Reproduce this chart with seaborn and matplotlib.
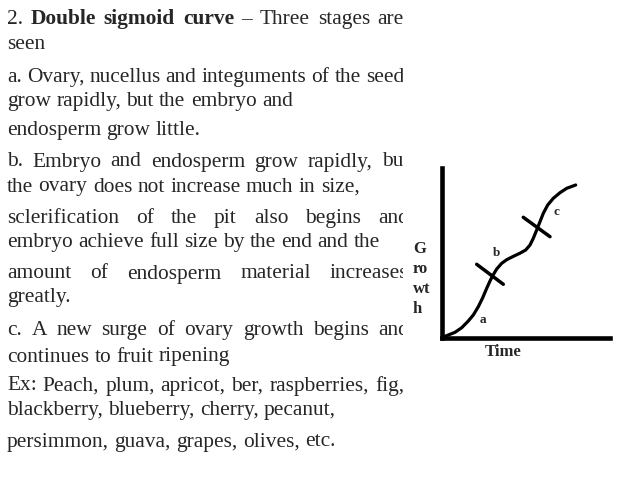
import matplotlib
matplotlib.use("Agg")
import matplotlib.pyplot as plt
from matplotlib.patches import Rectangle
import seaborn as sns
import pandas as pd

sns.set_style("white")
plt.rcParams['font.family'] = ['Liberation Serif', 'DejaVu Serif']

# slide text, words wrapped in ** are bold
body_lines = [
    "2. **Double** **sigmoid** **curve** \u2013 Three stages are",
    "seen",
    "a. Ovary, nucellus and integuments of the seed",
    "grow rapidly, but the embryo and",
    "endosperm grow little.",
    "b. Embryo and endosperm grow rapidly, but",
    "the ovary does not increase much in size,",
    "sclerification of the pit also begins and",
    "embryo achieve full size by the end and the",
    "amount of endosperm material increases",
    "greatly.",
    "c. A new surge of ovary growth begins and",
    "continues to fruit ripening",
    "Ex: Peach, plum, apricot, ber, raspberries, fig,",
    "blackberry, blueberry, cherry, pecanut,",
    "persimmon, guava, grapes, olives, etc.",
]
justified = [True, False, True, False, False, True, False, True,
             False, True, False, True, False, True, False, False]

# double sigmoid curve
time_vals = [0.0, 0.375, 0.774, 1.173, 1.565, 1.863, 2.161, 2.423, 2.661,
             2.857, 3.018, 3.256, 3.554, 3.851, 4.226, 4.643, 4.982, 5.238,
             5.435, 5.637, 5.833, 6.030, 6.292, 6.625, 7.024, 7.423, 7.958]
growth_vals = [0.0, 0.147, 0.306, 0.576, 0.971, 1.324, 1.812, 2.341, 2.894,
               3.324, 3.635, 4.029, 4.365, 4.576, 4.765, 4.959, 5.147, 5.441,
               5.835, 6.324, 6.812, 7.306, 7.794, 8.188, 8.518, 8.776, 8.971]

# stage boundary marks
mark_b_t = [2.065, 3.649]
mark_b_g = [4.306, 3.131]
mark_c_t = [4.839, 6.429]
mark_c_g = [7.071, 5.929]

stage_labels = ["a", "b", "c"]
stage_t = [2.26, 3.05, 6.63]
stage_g = [0.84, 4.79, 7.21]

ylabel_parts = ["G", "ro", "wt", "h"]

W, H = 638, 478
fig = plt.figure(figsize=(W / 100, H / 100), dpi=100)
fig.patch.set_facecolor("white")

# overlay axes in pixel units for the slide text
ax_txt = fig.add_axes([0, 0, 1, 1])
ax_txt.set_xlim(0, W)
ax_txt.set_ylim(H, 0)
ax_txt.axis("off")

FS = 15.4
renderer = fig.canvas.get_renderer()
clip_rect = Rectangle((0, 0), 403, H, transform=ax_txt.transData)
left = 7
baselines = [24, 49, 81.5, 106, 135, 166.5, 191.5, 223, 247, 278.5,
             302, 335, 361.5, 390.5, 415, 446.5]
right_edges = [404, 0, 404, 0, 0, 409, 0, 409, 0, 408, 0, 409, 0, 404, 0, 0]
space = 0.25 * FS * 100 / 72

for line, y, just, edge in zip(body_lines, baselines, justified, right_edges):
    words = line.split(" ")
    arts, widths = [], []
    for w in words:
        bold = w.startswith("**")
        t = ax_txt.text(0, y, w.strip("*"), fontsize=FS, va="baseline", ha="left",
                        fontweight="bold" if bold else "normal", clip_on=True)
        t.set_clip_path(clip_rect)
        arts.append(t)
        widths.append(t.get_window_extent(renderer).width)
    if just and len(words) > 1:
        gap = (edge - left - sum(widths)) / (len(words) - 1)
    else:
        gap = space
    x = left
    for t, wd in zip(arts, widths):
        t.set_x(x)
        x += wd + gap

# chart
ax = fig.add_axes([442 / W, 1 - 337.5 / H, 168 / W, 170 / H])
ax.patch.set_alpha(0)
df = pd.DataFrame({"Time": time_vals, "Growth": growth_vals})
sns.lineplot(data=df, x="Time", y="Growth", ax=ax, color="black", lw=2.3,
             estimator=None, sort=False, clip_on=False,
             solid_joinstyle="round", solid_capstyle="round")
sns.lineplot(x=mark_b_t, y=mark_b_g, ax=ax, color="black", lw=2.5, estimator=None)
sns.lineplot(x=mark_c_t, y=mark_c_g, ax=ax, color="black", lw=2.5, estimator=None)
ax.set_xlim(0, 10)
ax.set_ylim(0, 10)
sns.despine(ax=ax)
for s in ["left", "bottom"]:
    ax.spines[s].set_linewidth(3.3)
    ax.spines[s].set_color("black")
ax.set_xticks([])
ax.set_yticks([])
ax.set_xlabel("")
ax.set_ylabel("")

for lab, tx, gy in zip(stage_labels, stage_t, stage_g):
    ax.text(tx, gy, lab, fontsize=9.5, fontweight="bold", va="baseline", ha="left")

for i, part in enumerate(ylabel_parts):
    ax.text(-1.73, 4.99 - i * 1.18, part, fontsize=12, fontweight="bold",
            va="baseline", ha="left", clip_on=False)
ax.text(2.56, -1.09, "Time", fontsize=12, fontweight="bold", va="baseline",
        ha="left", clip_on=False)

fig.savefig("out.png", dpi=100)
